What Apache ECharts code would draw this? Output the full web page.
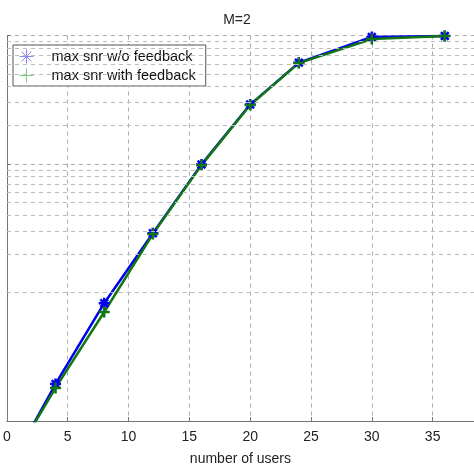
<!DOCTYPE html>
<html>
<head>
<meta charset="utf-8">
<script src="https://cdn.jsdelivr.net/npm/echarts@6/dist/echarts.min.js"></script>
<style>html,body{margin:0;padding:0;background:#fff}#chart{width:474px;height:474px}</style>
</head>
<body>
<div id="chart"></div>
<script>
// number of users
var users = [2, 4, 8, 12, 16, 20, 24, 30, 36];
var noFeedback = [8.8e-4, 1.94e-3, 8.26e-3, 0.0289, 0.0993, 0.290, 0.615, 0.973, 0.99];
var withFeedback = [8.7e-4, 1.81e-3, 7.05e-3, 0.0285, 0.098, 0.288, 0.61, 0.94, 0.99];
var xTicks = [0, 5, 10, 15, 20, 25, 30, 35];

var chart = echarts.init(document.getElementById('chart'));

// minor log grid lines (2..9 in each decade)
var minorLines = [];
[1e-3, 1e-2, 1e-1].forEach(function (d) {
    for (var k = 2; k <= 9; k++) minorLines.push({ yAxis: d * k });
});

function pairs(ys) {
    return users.map(function (u, i) { return [u, ys[i]]; });
}

var star = 'path://M0,-10L0,10M-10,0L10,0M-7,-7L7,7M-7,7L7,-7';
var plus = 'path://M0,-10L0,10M-10,0L10,0';

var option = {
    animation: false,
    title: {
        text: 'M=2', left: 'center', top: 8,
        textStyle: { fontSize: 14, fontWeight: 'normal', color: '#222', fontFamily: 'Arial' }
    },
    grid: { left: 5, right: 0, top: 35.5, bottom: 53 },
    legend: {
        left: 13, top: 45, orient: 'vertical', itemGap: 4,
        backgroundColor: '#fff', borderColor: '#555', borderWidth: 1, padding: [4, 10, 3, 6],
        itemWidth: 24, itemHeight: 14,
        textStyle: { fontSize: 14.5, color: '#111', fontFamily: 'Arial', padding: [0, 0, 0, 8] },
        data: [
            { name: 'max snr w/o feedback', icon: star, itemStyle: { color: 'transparent', borderColor: '#8888ee', borderWidth: 1 } },
            { name: 'max snr with feedback', icon: plus, itemStyle: { color: 'transparent', borderColor: '#77cc77', borderWidth: 1 } }
        ]
    },
    xAxis: {
        type: 'value', min: 0, max: 38.4, interval: 5,
        name: 'number of users', nameLocation: 'middle', nameGap: 31,
        nameTextStyle: { fontSize: 14, color: '#222', fontFamily: 'Arial' },
        axisLine: { lineStyle: { color: '#777' } },
        axisTick: { inside: true, length: 4, lineStyle: { color: '#777' } },
        axisLabel: { fontSize: 14, color: '#222', fontFamily: 'Arial', margin: 9, showMaxLabel: false,
            formatter: function (v) { return xTicks.indexOf(v) >= 0 ? String(v) : ''; } },
        splitLine: { show: true, lineStyle: { type: [4, 4], color: '#aaa' } }
    },
    yAxis: {
        type: 'log', min: 1e-3, max: 1, logBase: 10,
        axisLine: { show: true, lineStyle: { color: '#777' } },
        axisTick: { inside: true, length: 4, lineStyle: { color: '#777' } },
        axisLabel: { show: false },
        splitLine: { show: true, lineStyle: { type: [4, 4], color: '#aaa' } }
    },
    series: [
        {
            name: 'grid', type: 'line', data: [], silent: true,
            markLine: {
                silent: true, symbol: 'none', label: { show: false },
                lineStyle: { type: [4, 4], color: '#bbb', width: 1 },
                data: minorLines
            }
        },
        {
            name: 'max snr w/o feedback', type: 'line', data: pairs(noFeedback),
            lineStyle: { color: '#0000ee', width: 2.5 },
            itemStyle: { color: 'transparent', borderColor: '#0000ee', borderWidth: 2.5 },
            symbol: star, symbolSize: 11, showAllSymbol: true
        },
        {
            name: 'max snr with feedback', type: 'line', data: pairs(withFeedback),
            lineStyle: { color: '#117711', width: 2.5 },
            itemStyle: { color: 'transparent', borderColor: '#117711', borderWidth: 2.5 },
            symbol: plus, symbolSize: 11, showAllSymbol: true
        }
    ]
};
chart.setOption(option);
</script>
</body>
</html>
